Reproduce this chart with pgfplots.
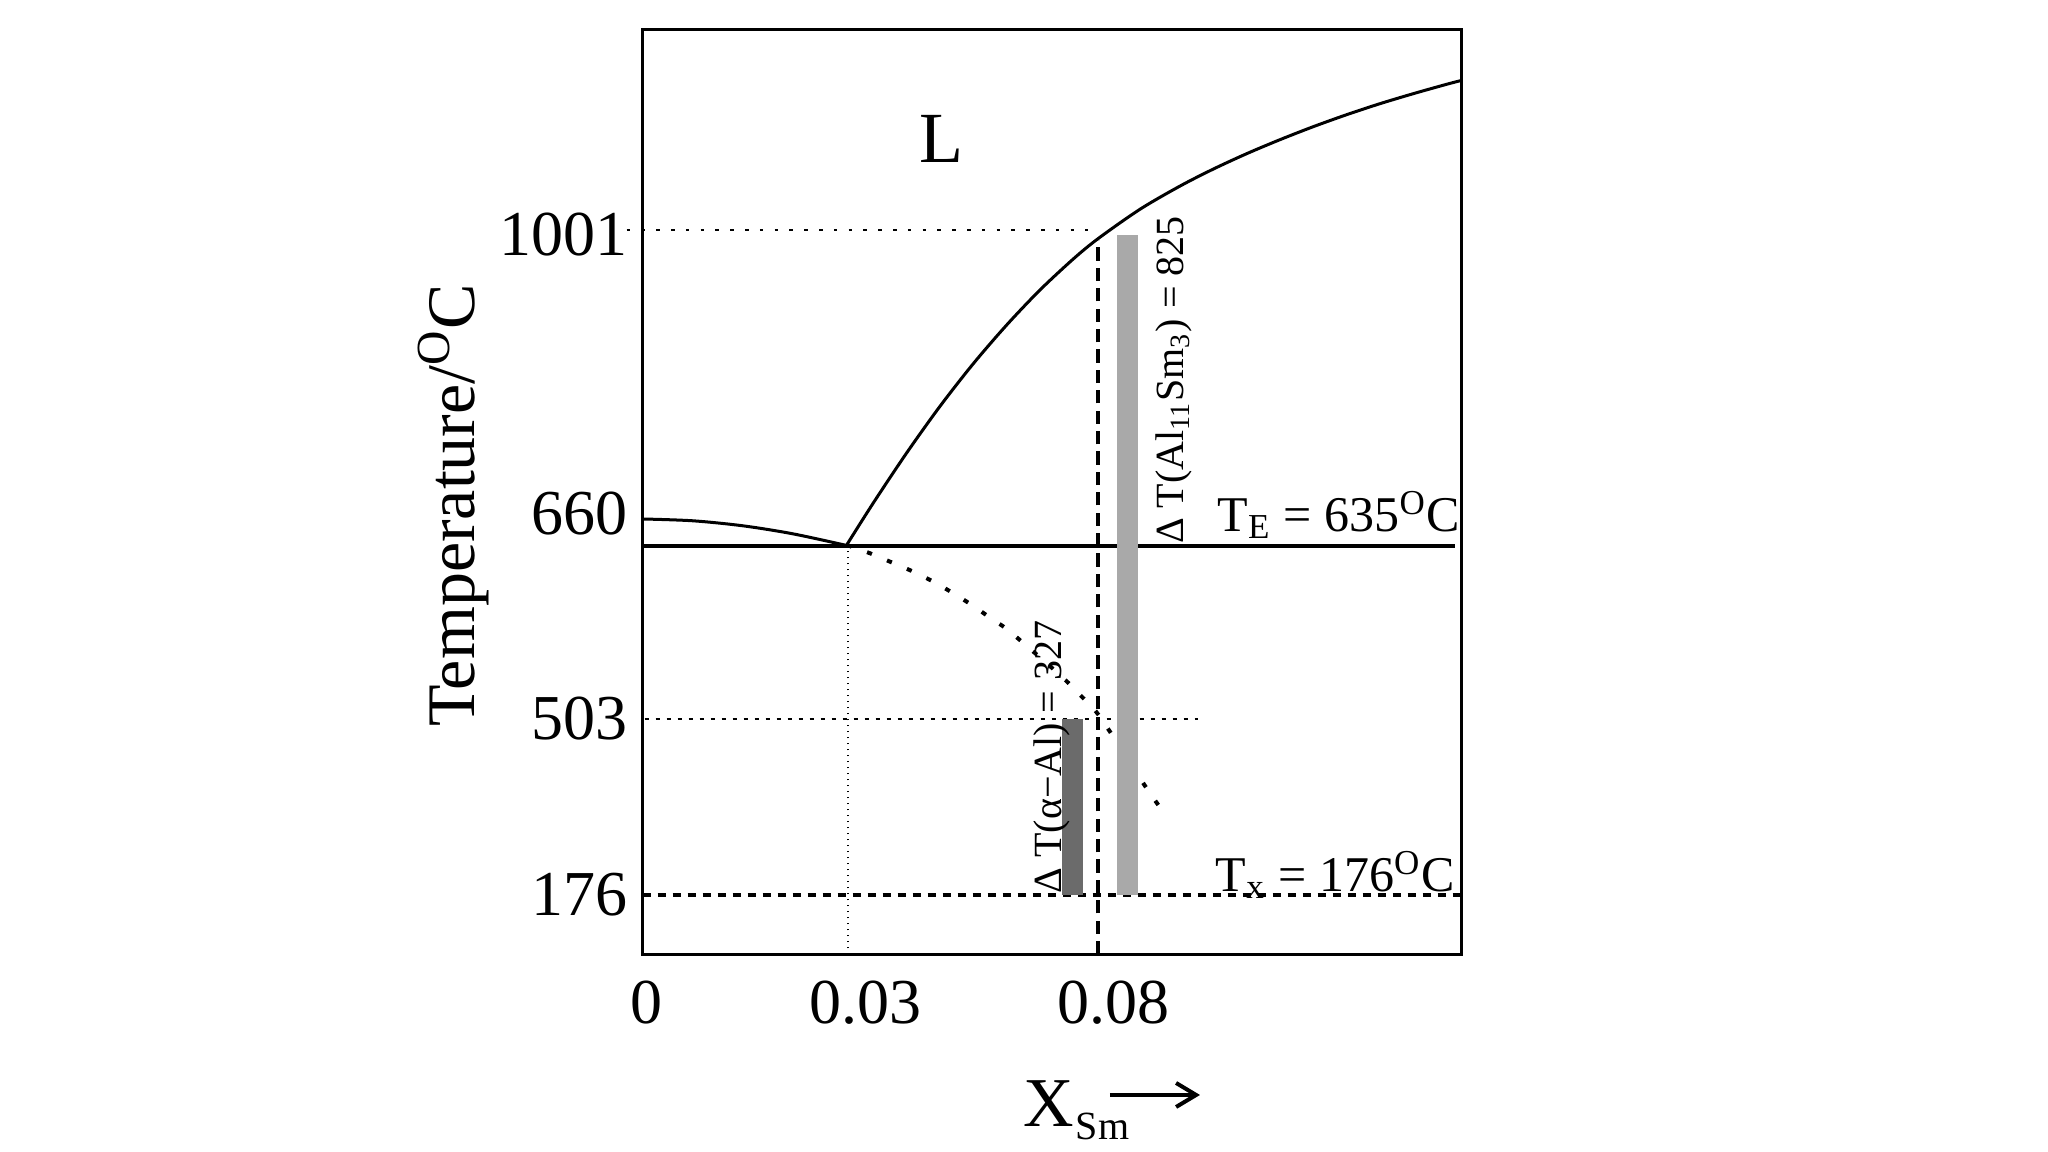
\documentclass[border=0pt]{standalone}
\usepackage{fontspec}
\setmainfont{Liberation Serif}
\usepackage{pgfplots}
\pgfplotsset{compat=1.18}
\usetikzlibrary{arrows.meta}
\definecolor{darkbar}{HTML}{6B6B6B}
\definecolor{lightbar}{HTML}{A9A9A9}

\begin{document}
\begin{tikzpicture}
\path[use as bounding box] (-160.675pt,-49.425pt) rectangle (351.325pt,238.575pt);
\begin{axis}[
  at={(0pt,0pt)}, anchor=south west,
  scale only axis, width=204.75pt, height=231.25pt,
  xmin=0, xmax=819, ymin=0, ymax=925,
  axis line style={line width=0.85pt},
  xtick={4,223,471}, xticklabels={0,0.03,0.08},
  ytick={59.3,236,441,720}, yticklabels={176,503,660,1001},
  major tick length=0pt,
  tick label style={font=\fontsize{16}{18}\selectfont, inner sep=0pt},
  xticklabel style={yshift=-6.4pt},
  yticklabel style={xshift=-3.7pt},
  clip=false,
]
% guide lines
\addplot[line width=0.6pt, dash pattern=on 0.9pt off 2.8pt] coordinates {(-16,724.3) (445,724.3)};
\addplot[line width=0.6pt, dash pattern=on 1pt off 1.75pt] coordinates {(2,235) (555,235)};
\addplot[line width=0.85pt, dash pattern=on 2pt off 1.75pt] coordinates {(0,59.3) (819,59.3)};
\addplot[line width=0.5pt, dash pattern=on 0.4pt off 1.1pt] coordinates {(205.3,0) (205.3,409)};
\addplot[line width=0.9pt, dash pattern=on 3.3pt off 1.8pt] coordinates {(455.6,0) (455.6,714)};
% metastable alpha-Al liquidus extension
\addplot[line width=1pt, dash pattern=on 1.3pt off 4.1pt, smooth] coordinates {
 (204,409.3) (227.3,401) (247.3,392.6) (270.6,382.6) (290.6,372.6) (310.6,361)
 (330.6,348.3) (350.6,334.3) (367.3,322.6) (417.3,279.3) (435.6,261) (450.6,246)
 (464,227.6) (500.6,171) (515.6,149.3)};
% liquidus (Al side)
\addplot[line width=0.75pt, smooth] coordinates {
 (0,435.3) (50,433.5) (100,428.5) (150,420.5) (204,408.8)};
% eutectic line
\addplot[line width=0.8pt] coordinates {(0,408.3) (812.3,408.3)};
% liquidus (Al11Sm3 side)
\addplot[line width=0.75pt, smooth] coordinates {
 (204,409.3) (230.6,451.3) (264,501.4) (297.3,548.0) (330.6,590.6) (364,629.3)
 (397.3,664.3) (430.6,695.3) (455.6,715.8) (497.3,745.0) (537.3,768.2) (570.6,785.2)
 (604,800.6) (637.3,814.6) (670.6,827.6) (704,839.6) (737.3,850.6) (770.6,860.6)
 (804,870.0) (819,873.9)};
% undercooling bars
\addplot[fill=darkbar, draw=none] coordinates {(419,59.3) (440.6,59.3) (440.6,235) (419,235)} --cycle;
\addplot[fill=lightbar, draw=none] coordinates {(474,59.3) (495.6,59.3) (495.6,719.3) (474,719.3)} --cycle;
% texts
\node[anchor=base, font=\fontsize{18}{20}\selectfont, inner sep=0pt] at (axis cs:299,791.3) {L};
\node[rotate=90, anchor=base, font=\fontsize{10}{12}\selectfont, inner sep=0pt] at (axis cs:540.6,574.3) {Δ T(Al\textsubscript{11}Sm\textsubscript{3}) = 825};
\node[rotate=90, anchor=base, font=\fontsize{10}{12}\selectfont, inner sep=0pt] at (axis cs:419,197.3) {Δ T(α−Al) = 327};
\node[anchor=base west, font=\fontsize{12.5}{14}\selectfont, inner sep=0pt] at (axis cs:574,422.6) {T\textsubscript{E} = 635\textsuperscript{O}C};
\node[anchor=base west, font=\fontsize{12.5}{14}\selectfont, inner sep=0pt] at (axis cs:572.3,62.6) {T\textsubscript{x} = 176\textsuperscript{O}C};
\node[rotate=90, anchor=base, font=\fontsize{17}{20}\selectfont, inner sep=0pt] at (axis cs:-167.7,449) {Temperature/\textsuperscript{O}C};
\node[anchor=base west, font=\fontsize{17.5}{20}\selectfont, inner sep=0pt] at (axis cs:380.3,-172.4) {X};
\node[anchor=base west, font=\fontsize{10}{12}\selectfont, inner sep=0pt] at (axis cs:432.3,-185.7) {Sm};
\draw[line width=1pt, -{Straight Barb[length=5pt,width=6pt]}] (axis cs:467.3,-140.7) -- (axis cs:557.3,-140.7);
\end{axis}
\end{tikzpicture}
\end{document}
